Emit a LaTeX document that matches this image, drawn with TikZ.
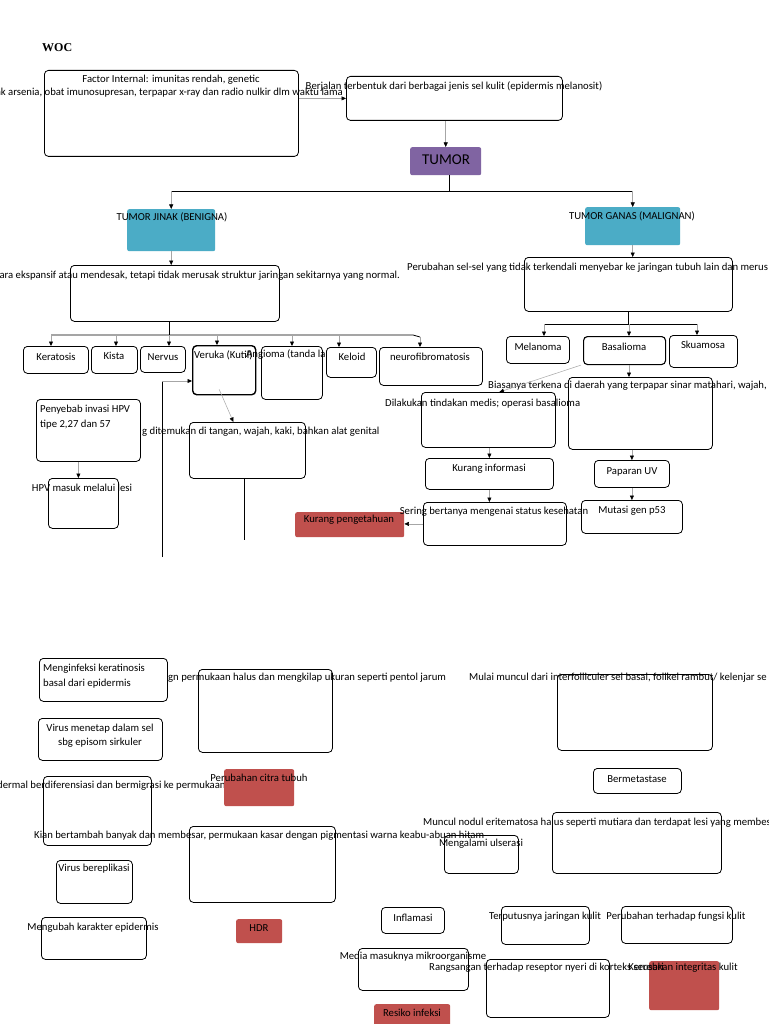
\documentclass[tikz,border=0pt]{standalone}
\usepackage{fontspec}
\setmainfont{Carlito}
\newfontfamily\wocfont{Liberation Serif}
\usepackage{xcolor}
\usetikzlibrary{arrows.meta}
\definecolor{wocred}{HTML}{C0504D}
\definecolor{woctea}{HTML}{4BACC6}
\definecolor{wocpur}{HTML}{8064A2}

\begin{document}
\begin{tikzpicture}[x=1pt, y=-1pt, every node/.style={font=\fontsize{10.7}{12}\selectfont, inner sep=0pt},
    box/.style={draw, rounded corners=4pt, line width=0.8pt, fill=white, anchor=north west},
    fillbox/.style={rounded corners=2pt, anchor=north west},
    arr/.style={draw=gray!70, line width=0.5pt, -{Triangle[length=4.5pt, width=4pt, color=black]}},
    bus/.style={draw=black, line width=0.8pt}]
    \useasboundingbox (0,0) rectangle (768,1024);
    \clip (0,0) rectangle (768,1024);
    \fill[white] (0,0) rectangle (768,1024);

    % upper part
    \node[anchor=west, font=\wocfont\bfseries\fontsize{12}{14}\selectfont] (woc) at (42,48) {WOC};
    \node[box, minimum width=254, minimum height=86] (fak) at (44,70) {};
    \node[box, minimum width=216, minimum height=44] (berj) at (346,76) {};
    \node[fillbox, fill=wocpur, minimum width=71, minimum height=28] (tumor) at (410,147) {};
    \node[fillbox, fill=woctea, minimum width=88, minimum height=42] (jinak) at (127,209) {};
    \node[fillbox, fill=woctea, minimum width=95, minimum height=38] (ganas) at (585,207) {};
    \node[box, minimum width=209, minimum height=56] (descC) at (70,265) {};
    \node[box, minimum width=208, minimum height=54] (descD) at (524,257) {};

    % benigna row
    \node[box, minimum width=65, minimum height=27] (kerat) at (23,346) {};
    \node[box, minimum width=46, minimum height=27] (kista) at (91,346) {};
    \node[box, minimum width=45, minimum height=26] (nervus) at (140,346) {};
    \node[box, line width=1.4pt, minimum width=63, minimum height=49] (veruka) at (192,345) {};
    \node[box, minimum width=61, minimum height=53] (angioma) at (261,346) {};
    \node[box, minimum width=50, minimum height=30] (keloid) at (326,347) {};
    \node[box, minimum width=103, minimum height=38] (neuro) at (379,347) {};
    \node[box, minimum width=116, minimum height=56] (verdesc) at (189,422) {};
    \node[box, minimum width=70, minimum height=50] (hpv) at (48,478) {};

    % maligna row
    \node[box, minimum width=63, minimum height=27] (melan) at (506,336) {};
    \node[box, line width=1.1pt, minimum width=82, minimum height=28] (basal) at (583,336) {};
    \node[box, minimum width=68, minimum height=32] (skuam) at (669,335) {};
    \node[box, minimum width=144, minimum height=72] (descG) at (568,377) {};
    \node[box, minimum width=134, minimum height=55] (descF) at (421,392) {};
    \node[box, minimum width=128, minimum height=31] (kinfo) at (425,458) {};
    \node[box, minimum width=75, minimum height=27] (paparan) at (594,460) {};
    \node[box, minimum width=143, minimum height=43] (sering) at (423,502) {};
    \node[box, minimum width=101, minimum height=33] (mutasi) at (581,500) {};
    \node[fillbox, fill=wocred, minimum width=109, minimum height=25] (kpeng) at (295,512) {};

    % lower part
    \node[box, minimum width=134, minimum height=83] (descI) at (198,669) {};
    \node[box, minimum width=124, minimum height=42] (menetap) at (38,718) {};
    \node[box, minimum width=108, minimum height=69] (descJ) at (43,776) {};
    \node[box, minimum width=146, minimum height=76] (descK) at (189,826) {};
    \node[box, minimum width=76, minimum height=43] (repl) at (56,860) {};
    \node[box, minimum width=105, minimum height=42] (ubah) at (41,917) {};
    \node[fillbox, fill=wocred, minimum width=46, minimum height=24] (hdr) at (236,919) {};
    \node[box, minimum width=155, minimum height=76] (mulai) at (557,674) {};
    \node[box, minimum width=88, minimum height=25] (bermet) at (593,768) {};
    \node[box, minimum width=169, minimum height=61] (nodul) at (552,812) {};
    \node[box, minimum width=74, minimum height=38] (ulser) at (444,835) {};
    \node[box, minimum width=63, minimum height=26] (inflam) at (381,907) {};
    \node[box, minimum width=88, minimum height=38] (putus) at (501,906) {};
    \node[box, minimum width=111, minimum height=37] (fungsi) at (621,906) {};
    \node[box, minimum width=110, minimum height=42] (media) at (358,948) {};
    \node[box, minimum width=123, minimum height=58] (rangs) at (486,959) {};
    \node[fillbox, fill=wocred, minimum width=70, minimum height=49] (kerus) at (649,961) {};
    \node[fillbox, fill=wocred, minimum width=76, minimum height=30] (resiko) at (374,1004) {};

    % texts
    \node (t-fak1) at (171,80) {Factor Internal: imunitas rendah, genetic};
    \node[anchor=east] (t-fak2) at (343,93) {ak arsenia, obat imunosupresan, terpapar x-ray dan radio nulkir dlm waktu lama};
    \node (t-berj) at (454,87) {Berjalan terbentuk dari berbagai jenis sel kulit (epidermis melanosit)};
    \node[font=\fontsize{15}{17}\selectfont] (t-tumor) at (446,160) {TUMOR};
    \node (t-jinak) at (172,217) {TUMOR JINAK (BENIGNA)};
    \node (t-ganas) at (632,216) {TUMOR GANAS (MALIGNAN)};
    \node[anchor=east] (t-descC) at (400,276) {ara ekspansif atau mendesak, tetapi tidak merusak struktur jaringan sekitarnya yang normal.};
    \node[anchor=west] (t-descD) at (407,268) {Perubahan sel-sel yang tidak terkendali menyebar ke jaringan tubuh lain dan merus};
    \node (t-kerat) at (56,357) {Keratosis};
    \node (t-kista) at (114,356) {Kista};
    \node (t-nervus) at (163,357) {Nervus};
    \node[anchor=west] (t-veruka) at (194,355) {Veruka (Kutil)};
    \node[anchor=west] (t-angioma) at (246,355) {Angioma (tanda la};
    \node (t-keloid) at (352,357) {Keloid};
    \node (t-neuro) at (430,357) {neurofibromatosis};
    \node (t-melan) at (538,347) {Melanoma};
    \node (t-basal) at (624,347) {Basalioma};
    \node (t-skuam) at (703,345) {Skuamosa};
    \node[anchor=west] (t-verdesc) at (142,432) {g ditemukan di tangan, wajah, kaki, bahkan alat genital};
    \node[anchor=west] (t-descG) at (488,386) {Biasanya terkena di daerah yang terpapar sinar matahari, wajah,};
    \node[anchor=west] (t-descF) at (385,404) {Dilakukan tindakan medis; operasi basalioma};
    \node (t-kinfo) at (489,469) {Kurang informasi};
    \node (t-paparan) at (632,472) {Paparan UV};
    \node (t-sering) at (494,512) {Sering bertanya mengenai status kesehatan};
    \node (t-mutasi) at (632,511) {Mutasi gen p53};
    \node (t-kpeng) at (349,520) {Kurang pengetahuan};
    \node (t-hpv) at (82,488) {HPV masuk melalui lesi};
    \node[anchor=west] (t-descI) at (168,678) {gn permukaan halus dan mengkilap ukuran seperti pentol jarum};
    \node[anchor=west] (t-mulai) at (469,678) {Mulai muncul dari interfolliculer sel basal, folikel rambut/ kelenjar se};
    \node (t-menetap1) at (100,729) {Virus menetap dalam sel};
    \node (t-menetap2) at (100,743) {sbg episom sirkuler};
    \node[anchor=west] (t-descJ) at (-3,786) {dermal berdiferensiasi dan bermigrasi ke permukaan};
    \node[fillbox, fill=wocred, minimum width=70, minimum height=37] (citra) at (224,769) {};
    \node (t-citra) at (259,778) {Perubahan citra tubuh};
    \node (t-bermet) at (637,779) {Bermetastase};
    \node[anchor=west] (t-nodul) at (423,823) {Muncul nodul eritematosa halus seperti mutiara dan terdapat lesi yang membes};
    \node[anchor=west] (t-descK) at (34,836) {Kian bertambah banyak dan membesar, permukaan kasar dengan pigmentasi warna keabu-abuan hitam};
    \node (t-ulser) at (481,844) {Mengalami ulserasi};
    \node (t-repl) at (94,869) {Virus bereplikasi};
    \node (t-ubah) at (93,928) {Mengubah karakter epidermis};
    \node (t-hdr) at (259,928) {HDR};
    \node (t-inflam) at (413,918) {Inflamasi};
    \node (t-putus) at (545,917) {Terputusnya jaringan kulit};
    \node (t-fungsi) at (676,917) {Perubahan terhadap fungsi kulit};
    \node (t-media) at (413,957) {Media masuknya mikroorganisme};
    \node[anchor=west] (t-rangs) at (429,968) {Rangsangan terhadap reseptor nyeri di korteks serebri};
    \node (t-kerus) at (683,968) {Kerusakan integritas kulit};
    \node (t-resiko) at (412,1013) {Resiko infeksi};

    % boxes drawn over overflowing text
    \node[box, minimum width=104, minimum height=62] (peny) at (36,399) {};
    \node[anchor=west] (t-peny1) at (40,410) {Penyebab invasi HPV};
    \node[anchor=west] (t-peny2) at (40,425) {tipe 2,27 dan 57};
    \node[box, minimum width=128, minimum height=43] (meng) at (39,658) {};
    \node[anchor=west] (t-meng1) at (43,669) {Menginfeksi keratinosis};
    \node[anchor=west] (t-meng2) at (43,684) {basal dari epidermis};

    % connectors
    \coordinate (split) at (449,191);
    \coordinate (rowbus) at (169,335);
    \coordinate (d1) at (51,335);
    \coordinate (d2) at (116,335);
    \coordinate (d3) at (169,335);
    \coordinate (d4) at (217,335);
    \coordinate (d5) at (292,335);
    \coordinate (d6) at (339,335);
    \coordinate (d7) at (413,335);
    \coordinate (d8) at (420,337);
    \coordinate (m0) at (628,324);
    \coordinate (m1) at (544,324);
    \coordinate (m2) at (629,324);
    \coordinate (m3) at (697,324);
    \coordinate (lowleft) at (162,557);
    \coordinate (verin) at (162,381);
    \coordinate (verend) at (244,540);

    \draw[arr] (fak.east |- berj.west) -- (berj.west);
    \draw[arr] (berj.south -| tumor.north) -- (tumor.north);
    \draw[bus] (split |- tumor.south) -- (split);
    \draw[bus] (split -| jinak.north) -- (split -| ganas.north);
    \draw[arr] (split -| jinak.north) -- (jinak.north);
    \draw[arr] (split -| ganas.north) -- (ganas.north);
    \draw[arr] (jinak.south) -- (jinak.south |- descC.north);
    \draw[arr] (ganas.south) -- (ganas.south |- descD.north);

    \draw[bus] (rowbus |- descC.south) -- (rowbus);
    \draw[bus] (d1) -- (d7) -- (d8);
    \draw[arr] (d1) -- (d1 |- kerat.north);
    \draw[arr] (d2) -- (d2 |- kista.north);
    \draw[arr] (d3) -- (d3 |- nervus.north);
    \draw[arr] (d4) -- (d4 |- veruka.north);
    \draw[arr] (d5) -- (d5 |- angioma.north);
    \draw[arr] (d6) -- (d6 |- keloid.north);
    \draw[arr] (d8) -- (d8 |- neuro.north);

    \draw[bus] (m0 |- descD.south) -- (m0);
    \draw[bus] (m1) -- (m3);
    \draw[arr] (m1) -- (m1 |- melan.north);
    \draw[arr] (m2) -- (m2 |- basal.north);
    \draw[arr] (m3) -- (m3 |- skuam.north);

    \draw[arr] ([xshift=-2pt]basal.south west) -- ([xshift=11pt]descF.north);
    \draw[arr] (m2 |- basal.south) -- (m2 |- descG.north);
    \draw[arr] (descF.south -| kinfo.north) -- (kinfo.north);
    \draw[arr] (paparan.north |- descG.south) -- (paparan.north);
    \draw[arr] (kinfo.south) -- (kinfo.south |- sering.north);
    \draw[arr] (sering.west) -- (sering.west -| kpeng.east);
    \draw[arr] (paparan.south) -- (paparan.south |- mutasi.north);
    \draw[arr] ([xshift=-5pt]hpv.north |- peny.south) -- ([xshift=-5pt]hpv.north);

    \draw[arr] ([xshift=-5pt, yshift=6pt]veruka.south) -- ([xshift=-14pt]verdesc.north);
    \draw[bus] (lowleft) -- (verin);
    \draw[arr] (verin) -- (verin -| veruka.west);
    \draw[bus] (verend |- verdesc.south) -- (verend);
\end{tikzpicture}
\end{document}
